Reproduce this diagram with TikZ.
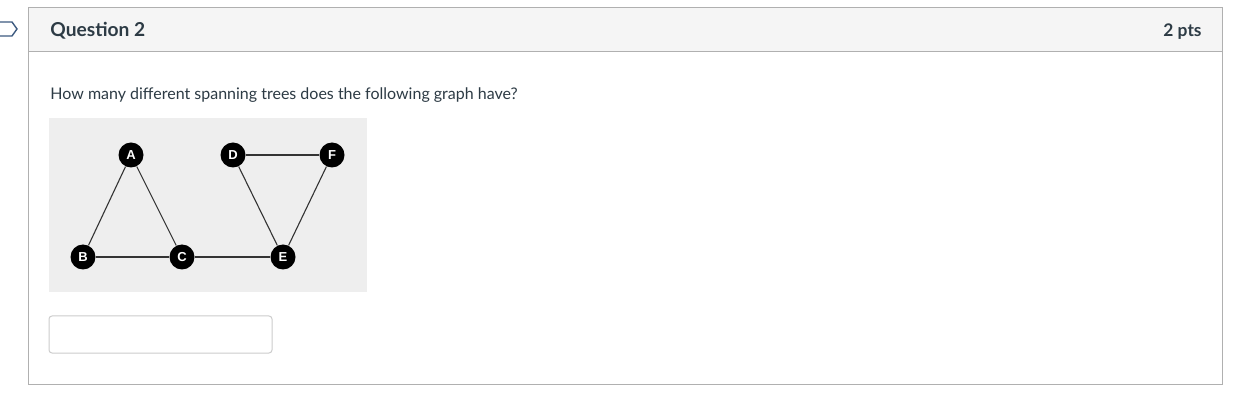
\documentclass[tikz,border=0pt]{standalone}
\usepackage{fontspec}
\setmainfont{Lato}
\newfontfamily\vertexfont{Liberation Sans}
\usepackage{xcolor}
\definecolor{qdark}{HTML}{2d3b45}
\definecolor{qborder}{HTML}{b0b0b0}
\definecolor{qhead}{HTML}{f5f5f5}
\definecolor{qgraph}{HTML}{eeeeee}
\definecolor{qedge}{HTML}{333333}
\definecolor{qinput}{HTML}{cccccc}
\definecolor{qmarker}{HTML}{3d5a80}

\begin{document}
\begin{tikzpicture}[x=0.5pt, y=-0.5pt,
		vertex/.style={circle, fill=black, minimum size=12.5pt, inner sep=0pt, text=white, font=\vertexfont\bfseries\fontsize{6.5}{7}\selectfont},
		edge/.style={color=qedge, line width=0.55pt}]
		\useasboundingbox (0,0) rectangle (1256,400);
		% question frame
		\fill[white] (0,0) rectangle (1256,400);
		\draw[color=qborder, fill=qhead, line width=0.5pt] (28,8) rectangle (1222,52);
		\draw[color=qborder, line width=0.5pt] (28,52) rectangle (1222,384);
		\draw[color=qmarker, line width=0.7pt] (-2,22) -- (12,22) -- (17,29) -- (12,36) -- (-2,36);
		\node[anchor=west, inner sep=0pt, text=qdark, font=\bfseries\fontsize{9.6}{11}\selectfont] (title) at (50,31) {Question 2};
		\node[anchor=east, inner sep=0pt, text=qdark, font=\bfseries\fontsize{8.7}{10}\selectfont] (points) at (1202,31.5) {2 pts};
		\node[anchor=west, inner sep=0pt, text=qdark, font=\fontsize{8}{10}\selectfont] (prompt) at (50,95) {How many different spanning trees does the following graph have?};
		% graph
		\fill[color=qgraph] (49,118) rectangle (367,292);
		\node[vertex] (A) at (131,155) {A};
		\node[vertex] (D) at (233,155) {D};
		\node[vertex] (F) at (332,155) {F};
		\node[vertex] (B) at (83,257) {B};
		\node[vertex] (C) at (182,257) {C};
		\node[vertex] (E) at (283,257) {E};
		\draw[edge] (A) -- (B);
		\draw[edge] (A) -- (C);
		\draw[edge] (B) -- (C);
		\draw[edge] (C) -- (E);
		\draw[edge] (D) -- (E);
		\draw[edge] (E) -- (F);
		\draw[edge] (D) -- (F);
		% answer field
		\draw[color=qinput, line width=0.5pt, rounded corners=1.5pt] (49,316) rectangle (272,353);
	\end{tikzpicture}
\end{document}
